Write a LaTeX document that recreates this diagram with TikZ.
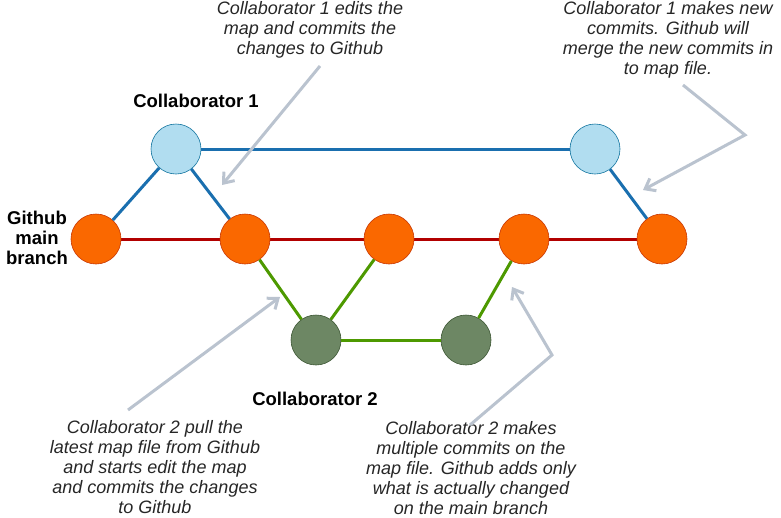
\documentclass[tikz,border=0pt]{standalone}
\usepackage{fontspec}
\setmainfont{Liberation Sans}
\usetikzlibrary{arrows.meta}
\definecolor{orfill}{HTML}{FA6800}
\definecolor{ordraw}{HTML}{C73500}
\definecolor{blfill}{HTML}{B1DDF0}
\definecolor{bldraw}{HTML}{10739E}
\definecolor{grfill}{HTML}{6D8764}
\definecolor{grdraw}{HTML}{3A5431}
\definecolor{blline}{HTML}{1A6FAF}
\definecolor{rdline}{HTML}{B20000}
\definecolor{grline}{HTML}{4D9900}
\definecolor{note}{HTML}{BAC3CF}
\tikzset{
  dot/.style={circle,minimum size=50pt,inner sep=0pt,line width=0.6pt},
  on/.style={dot,fill=orfill,draw=ordraw},
  bn/.style={dot,fill=blfill,draw=bldraw},
  gn/.style={dot,fill=grfill,draw=grdraw},
  lab/.style={font=\bfseries\fontsize{18.5pt}{20pt}\selectfont,align=center},
  txt/.style={font=\itshape\fontsize{18pt}{20pt}\selectfont,align=center,text=black!85},
  arr/.style={draw=note,line width=3pt,-{Straight Barb[length=9pt,width=14pt]}},
}
\begin{document}
\begin{tikzpicture}[x=1pt,y=-1pt]
\useasboundingbox (0,0) rectangle (781,517);
% lines behind nodes
\coordinate (p1) at (96,239);
\coordinate (p5) at (662,239);
\draw[rdline,line width=3pt] (p1) -- (p5);
\node[bn] (c1a) at (176,149) {};
\node[bn] (c1b) at (595,149) {};
\node[on] (o1) at (96,239) {};
\node[on] (o2) at (245,239) {};
\node[on] (o3) at (389,239) {};
\node[on] (o4) at (524,239) {};
\node[on] (o5) at (662,239) {};
\node[gn] (g1) at (316,340) {};
\node[gn] (g2) at (466,340) {};
\begin{scope}[line width=3pt]
\draw[blline] (c1a) -- (c1b);
\draw[blline] (c1a) -- (o1);
\draw[blline] (c1a) -- (o2);
\draw[blline] (c1b) -- (o5);
\draw[grline] (o2) -- (g1);
\draw[grline] (g1) -- (o3);
\draw[grline] (g1) -- (g2);
\draw[grline] (g2) -- (o4);
\end{scope}
\node[lab] (l1) at (196,101) {Collaborator 1};
\node[lab] (l2) at (37,238) {Github\\main\\branch};
\node[lab] (l3) at (315,399) {Collaborator 2};
\node[txt] (t1) at (310,30) {Collaborator 1 edits the\\map and commits the\\changes to Github};
\node[txt] (t2) at (668,40) {Collaborator 1 makes new\\commits. Github will\\merge the new commits in\\to map file.};
\node[txt] (t3) at (155,467) {Collaborator 2 pull the\\latest map file from Github\\and starts edit the map\\and commits the changes\\to Github};
\node[txt] (t4) at (471,468) {Collaborator 2 makes\\multiple commits on the\\map file. Github adds only\\what is actually changed\\on the main branch};
\coordinate (a1s) at (320,66);
\coordinate (a1e) at (222,185);
\coordinate (a2s) at (683,85);
\coordinate (a2m) at (745,135);
\coordinate (a2e) at (643,190);
\coordinate (a3s) at (128,410);
\coordinate (a3e) at (280,297);
\coordinate (a4s) at (470,425);
\coordinate (a4m) at (552,355);
\coordinate (a4e) at (512,287);
\draw[arr] (a1s) -- (a1e);
\draw[arr] (a2s) -- (a2m) -- (a2e);
\draw[arr] (a3s) -- (a3e);
\draw[arr] (a4s) -- (a4m) -- (a4e);
\end{tikzpicture}
\end{document}
